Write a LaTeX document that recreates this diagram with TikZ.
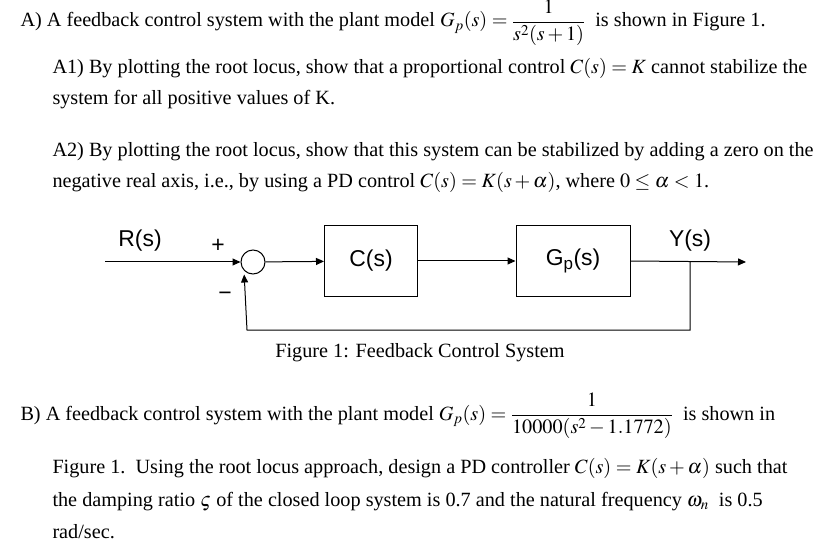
\documentclass[tikz,border=0pt]{standalone}
\usepackage{mathptmx}
\usepackage[no-math]{fontspec}
\setmainfont{Liberation Serif}
\newfontfamily\diag{Liberation Sans}
\usetikzlibrary{arrows.meta}
\begin{document}
\begin{tikzpicture}[x=1bp,y=-1bp,line width=1bp,
  txt/.style={anchor=base west,inner sep=0,font=\fontsize{20.3}{22}\selectfont},
  blk/.style={draw,minimum width=93bp,minimum height=70bp,font=\diag\fontsize{23}{25}\selectfont},
  lab/.style={font=\diag\fontsize{23}{25}\selectfont,inner sep=0},
  arr/.style={-{Triangle[length=8bp,width=7bp]}}]
\useasboundingbox (0,0) rectangle (839,548);
\node[txt] (l1) at (20,27) {A) A feedback control system with the plant model $\displaystyle G_p(s)=\frac{1}{s^2(s+1)}$ \ is shown in Figure 1.};
\node[txt] (l2) at (52,74) {A1) By plotting the root locus, show that a proportional control $C(s)=K$ cannot stabilize the};
\node[txt] (l3) at (52,105) {system for all positive values of K.};
\node[txt] (l4) at (52,157) {A2) By plotting the root locus, show that this system can be stabilized by adding a zero on the};
\node[txt] (l5) at (52,188) {negative real axis, i.e., by using a PD control $C(s)=K(s+\alpha)$, where $0\le\alpha<1$.};
% diagram
\coordinate (in) at (105,262);
\node[draw,circle,minimum size=24bp,inner sep=0] (sum) at (253,262) {};
\node[blk] (C) at (371,261) {C(s)};
\node[blk,minimum width=114bp] (G) at (573,261) {G\textsubscript{p}(s)};
\coordinate (tap) at (690,262);
\coordinate (out) at (746,262);
\coordinate (bl) at (690,330);
\coordinate (br) at (247,330);
\node[lab] (R) at (140,241) {R(s)};
\node[lab] (Y) at (690,241) {Y(s)};
\node[lab] (plus) at (218,246) {+};
\node[lab] (minus) at (225,296) {\textminus};
\draw[arr] (in) -- (sum);
\draw[arr] (sum) -- (C);
\draw[arr] (C) -- (G);
\draw[arr] (G.east) -- (out);
\draw[arr] (tap) -- (bl) -- (br) -- (sum.south west|-sum.south);
\node[txt,anchor=base] (cap) at (420,357) {Figure 1: Feedback Control System};
% B
\node[txt] (b1) at (20,420) {B) A feedback control system with the plant model $\displaystyle G_p(s)=\frac{1}{10000(s^2-1.1772)}$ \ is shown in};
\node[txt] (b2) at (52,473) {Figure 1.\ \ Using the root locus approach, design a PD controller $C(s)=K(s+\alpha)$ such that};
\node[txt] (b3) at (52,506) {the damping ratio $\varsigma$ of the closed loop system is 0.7 and the natural frequency $\omega_n$\ \ is 0.5};
\node[txt] (b4) at (52,538) {rad/sec.};
\end{tikzpicture}
\end{document}
